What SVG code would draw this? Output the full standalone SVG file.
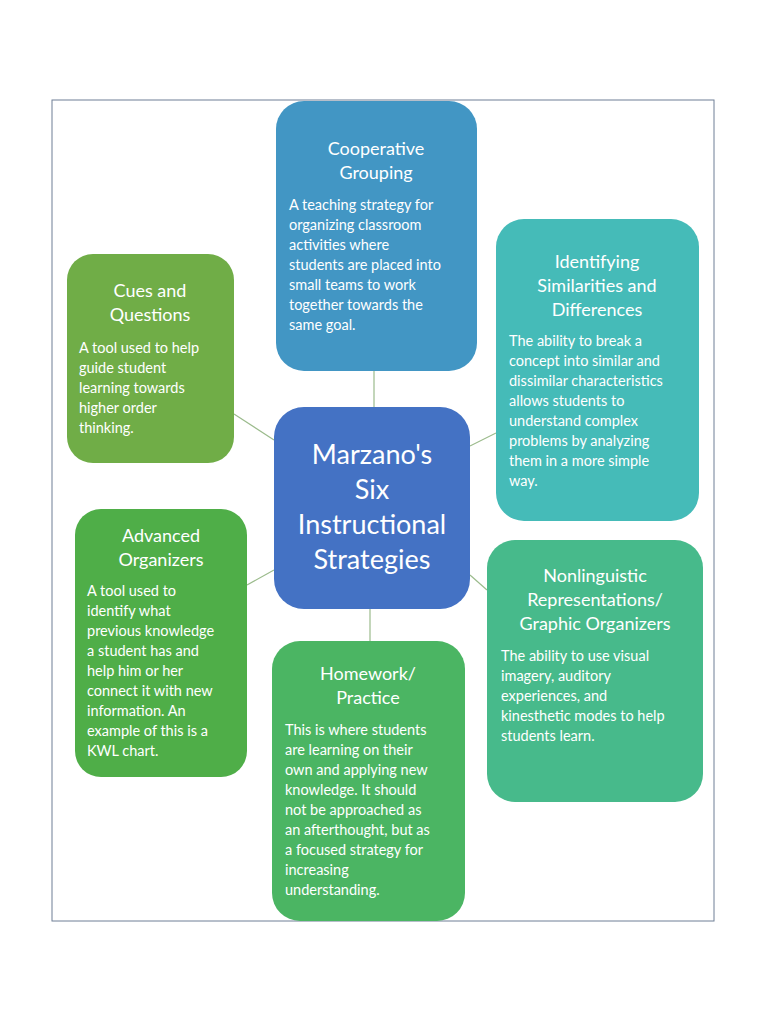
<svg xmlns="http://www.w3.org/2000/svg" width="768" height="1024" viewBox="0 0 768 1024">
<style>
.t{font-family:Lato,"Liberation Sans",sans-serif;fill:#fff}
.h{font-size:18px;text-anchor:middle}
.b{font-size:14.5px}
.c{font-size:27px;text-anchor:middle}
.con line{stroke:#9bbb8c;stroke-width:1.2}
</style>
<rect width="768" height="1024" fill="#fff"/>
<rect x="52" y="100" width="662" height="821" fill="none" stroke="#6f7f96" stroke-width="1"/>
<g class="con">
<line x1="374" y1="371" x2="374" y2="407"/>
<line x1="470" y1="446" x2="496" y2="433"/>
<line x1="470" y1="575" x2="487" y2="590"/>
<line x1="370" y1="609" x2="370" y2="641"/>
<line x1="247" y1="585" x2="274" y2="570"/>
<line x1="234" y1="414" x2="274" y2="440"/>
</g>
<g id="center">
<rect x="274" y="407" width="196" height="202" rx="30" fill="#4472C4"/>
<text class="t c"><tspan x="372" y="464">Marzano's</tspan><tspan x="372" y="499">Six</tspan><tspan x="372" y="534">Instructional</tspan><tspan x="372" y="569">Strategies</tspan></text>
</g>
<g id="coop">
<rect x="276" y="101" width="201" height="270" rx="28" fill="#4296C4"/>
<text class="t h"><tspan x="376" y="155">Cooperative</tspan><tspan x="376" y="179">Grouping</tspan></text>
<text class="t b"><tspan x="289" y="210">A teaching strategy for</tspan><tspan x="289" y="230">organizing classroom</tspan><tspan x="289" y="250">activities where</tspan><tspan x="289" y="270">students are placed into</tspan><tspan x="289" y="290">small teams to work</tspan><tspan x="289" y="310">together towards the</tspan><tspan x="289" y="330">same goal.</tspan></text>
</g>
<g id="ident">
<rect x="496" y="219" width="203" height="302" rx="28" fill="#45BBB8"/>
<text class="t h"><tspan x="597" y="268">Identifying</tspan><tspan x="597" y="292">Similarities and</tspan><tspan x="597" y="316">Differences</tspan></text>
<text class="t b"><tspan x="509" y="346">The ability to break a</tspan><tspan x="509" y="366">concept into similar and</tspan><tspan x="509" y="386">dissimilar characteristics</tspan><tspan x="509" y="406">allows students to</tspan><tspan x="509" y="426">understand complex</tspan><tspan x="509" y="446">problems by analyzing</tspan><tspan x="509" y="466">them in a more simple</tspan><tspan x="509" y="486">way.</tspan></text>
</g>
<g id="nonling">
<rect x="487" y="540" width="216" height="262" rx="28" fill="#47BA8B"/>
<text class="t h"><tspan x="595" y="582">Nonlinguistic</tspan><tspan x="595" y="606">Representations/</tspan><tspan x="595" y="630">Graphic Organizers</tspan></text>
<text class="t b"><tspan x="501" y="661">The ability to use visual</tspan><tspan x="501" y="681">imagery, auditory</tspan><tspan x="501" y="701">experiences, and</tspan><tspan x="501" y="721">kinesthetic modes to help</tspan><tspan x="501" y="741">students learn.</tspan></text>
</g>
<g id="homework">
<rect x="272" y="641" width="193" height="280" rx="28" fill="#4BB563"/>
<text class="t h"><tspan x="368" y="680">Homework/</tspan><tspan x="368" y="704">Practice</tspan></text>
<text class="t b"><tspan x="285" y="735">This is where students</tspan><tspan x="285" y="755">are learning on their</tspan><tspan x="285" y="775">own and applying new</tspan><tspan x="285" y="795">knowledge. It should</tspan><tspan x="285" y="815">not be approached as</tspan><tspan x="285" y="835">an afterthought, but as</tspan><tspan x="285" y="855">a focused strategy for</tspan><tspan x="285" y="875">increasing</tspan><tspan x="285" y="895">understanding.</tspan></text>
</g>
<g id="advanced">
<rect x="75" y="509" width="172" height="268" rx="26" fill="#4FAE48"/>
<text class="t h"><tspan x="161" y="542">Advanced</tspan><tspan x="161" y="566">Organizers</tspan></text>
<text class="t b"><tspan x="87" y="596">A tool used to</tspan><tspan x="87" y="616">identify what</tspan><tspan x="87" y="636">previous knowledge</tspan><tspan x="87" y="656">a student has and</tspan><tspan x="87" y="676">help him or her</tspan><tspan x="87" y="696">connect it with new</tspan><tspan x="87" y="716">information. An</tspan><tspan x="87" y="736">example of this is a</tspan><tspan x="87" y="756">KWL chart.</tspan></text>
</g>
<g id="cues">
<rect x="67" y="254" width="167" height="209" rx="26" fill="#70AD47"/>
<text class="t h"><tspan x="150" y="297">Cues and</tspan><tspan x="150" y="321">Questions</tspan></text>
<text class="t b"><tspan x="79" y="353">A tool used to help</tspan><tspan x="79" y="373">guide student</tspan><tspan x="79" y="393">learning towards</tspan><tspan x="79" y="413">higher order</tspan><tspan x="79" y="433">thinking.</tspan></text>
</g>
</svg>
